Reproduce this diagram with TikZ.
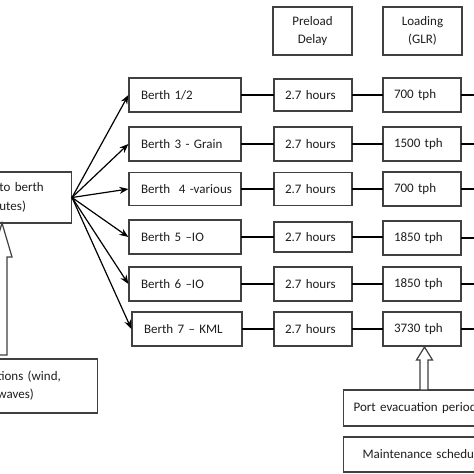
\documentclass[tikz,border=0pt]{standalone}
\usepackage{fontspec}
\setmainfont{Carlito}
\usetikzlibrary{arrows.meta}

\begin{document}
\begin{tikzpicture}[x=1pt,y=-1pt,line cap=rect,
        box/.style={draw=custcol_40_40_40, line width=1.2pt, inner ysep=0pt, text=custcol_1e_1e_1e,
            font=\fontsize{13pt}{19pt}\selectfont},
        leftbox/.style={box, text width=#1, align=left},
        berthbox/.style={leftbox=88pt, inner xsep=12pt, minimum height=34pt},
        stagebox/.style={leftbox=56pt, inner xsep=11pt, minimum height=34pt},
        headbox/.style={box, align=center, minimum width=79pt, minimum height=48pt,
            font=\fontsize{13pt}{18pt}\selectfont},
        link/.style={line width=1.5pt, custcol_0_0_0},
        fan/.style={line width=1.2pt, custcol_0_0_0, -{Stealth[length=9pt,width=7pt]}},
        hollow/.style={line width=1.2pt, draw=custcol_40_40_40, fill=white, line cap=butt, line join=miter}]
					\definecolor{custcol_0_0_0}{RGB}{0, 0, 0}
					\definecolor{custcol_40_40_40}{RGB}{64, 64, 64}
					\definecolor{custcol_1e_1e_1e}{RGB}{30, 30, 30}
					\useasboundingbox (0,0) rectangle (474,474);
					\fill [white] (0,0) rectangle (474,474);
					\clip (0,0) rectangle (474,474);
					% column heads
					\node[headbox] (preload) at (312.5,31.0) {Preload\\Delay};
					\node[headbox] (loading) at (422.5,31.0) {Loading\\(GLR)};
					% berths
					\node[berthbox] (b1) at (185.0,95.0) {Berth 1/2};
					\node[berthbox] (b2) at (185.0,144.0) {Berth 3 - Grain};
					\node[berthbox, minimum height=33pt] (b3) at (185.0,189.0) {\mbox{Berth\ \ 4 -various}};
					\node[berthbox] (b4) at (185.0,237.0) {Berth 5 –IO};
					\node[berthbox] (b5) at (185.0,284.0) {Berth 6 –IO};
					\node[berthbox, text width=86pt] (b6) at (187.0,329.0) {Berth 7 – KML};
					% preload delay
					\node[stagebox, minimum height=32pt] (d1) at (313.0,95.0) {2.7 hours};
					\node[stagebox] (d2) at (313.0,144.0) {2.7 hours};
					\node[stagebox, minimum height=33pt] (d3) at (313.0,189.0) {2.7 hours};
					\node[stagebox, minimum height=30pt] (d4) at (313.0,237.0) {2.7 hours};
					\node[stagebox] (d5) at (313.0,284.0) {2.7 hours};
					\node[stagebox] (d6) at (313.0,329.0) {2.7 hours};
					% loading rate
					\node[stagebox] (t1) at (422.0,95.0) {700 tph};
					\node[stagebox] (t2) at (422.0,144.0) {1500 tph};
					\node[stagebox] (t3) at (422.0,189.0) {700 tph};
					\node[stagebox] (t4) at (422.0,238.0) {1850 tph};
					\node[stagebox] (t5) at (422.0,284.0) {1850 tph};
					\node[stagebox] (t6) at (422.0,329.0) {3730 tph};
					% side boxes
					\node[leftbox=62pt, inner xsep=10pt, minimum height=51pt, anchor=east] (berthtime) at (72.0,197.5) {to berth\\utes)};
					\node[leftbox=88pt, inner xsep=12pt, minimum height=54pt, anchor=east,
						font=\fontsize{13pt}{18pt}\selectfont] (weather) at (98.0,386.0) {tions (wind,\\waves)};
					\node[leftbox=200pt, inner xsep=10pt, minimum height=36pt, anchor=west] (evac) at (343.0,408.0) {Port evacuation period};
					\node[leftbox=200pt, inner xsep=19pt, minimum height=35pt, anchor=west] (maint) at (343.0,454.5) {Maintenance schedule};
					% connectors
					\coordinate (redge) at (480.0,0.0);
					\foreach \r in {1,...,6} {
						\draw[fan] (berthtime.east) -- (b\r.west);
						\draw[link] (b\r.east) -- (b\r.east -| d\r.west);
						\draw[link] (d\r.east) -- (d\r.east -| t\r.west);
						\draw[link] (t\r.east) -- (t\r.east -| redge);
					}
					\draw[hollow] (2.0,223.0) -- (12.0,257.0) -- (7.0,257.0) -- (7.0,355.0) -- (-3.0,355.0) -- (-3.0,257.0) -- (-8.0,257.0) -- cycle;
					\draw[hollow] (424.5,347.0) -- (432.5,360.0) -- (428.0,360.0) -- (428.0,390.0) -- (420.0,390.0) -- (420.0,360.0) -- (416.5,360.0) -- cycle;
				\end{tikzpicture}
\end{document}
